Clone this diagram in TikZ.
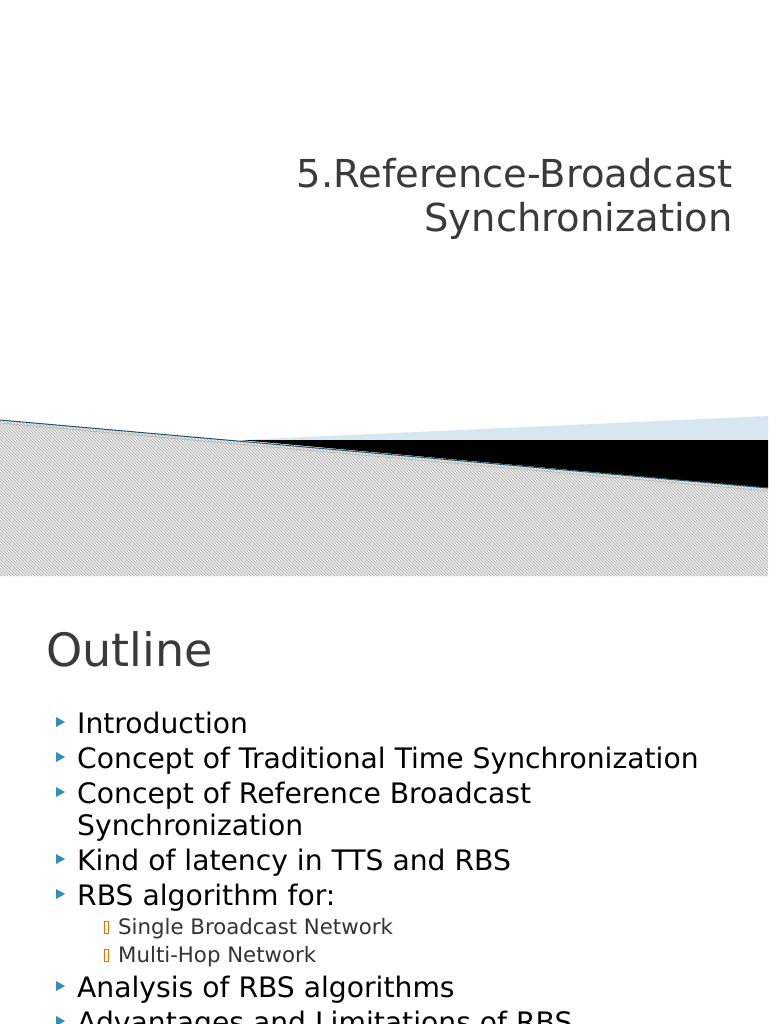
\documentclass[tikz,border=0pt]{standalone}
\usepackage{fontspec}
\setmainfont{DejaVu Sans}
\usetikzlibrary{patterns}
\definecolor{tit}{HTML}{3A3A3A}
\definecolor{teal}{HTML}{2E8FB8}
\definecolor{lblue}{HTML}{D6E7EF}
\tikzset{
 bul/.style={anchor=base west,font=\fontsize{28.2}{32}\selectfont,inner sep=0},
 sub/.style={anchor=base west,font=\fontsize{21.3}{24}\selectfont,color=black!80,inner sep=0},
 tri/.style={fill=teal,draw=none},
 sq/.style={draw=orange!90!black,line width=0.8pt}
}
\begin{document}
\begin{tikzpicture}[x=1pt,y=-1pt]
\useasboundingbox (0,0) rectangle (768,1024);
% band
\fill[lblue] (240,440) -- (768,416) -- (768,440) -- cycle;
\fill[black] (240,440) -- (768,440) -- (768,488) -- cycle;
\fill[gray!12] (0,420) -- (768,488) -- (768,576) -- (0,576) -- cycle;
\fill[pattern=north west lines,pattern color=gray!70] (0,420) -- (768,488) -- (768,576) -- (0,576) -- cycle;
\draw[teal!60!black,line width=1pt] (0,420) -- (768,488);
\draw[gray!60,line width=0.6pt] (0,423) -- (768,491);
% title
\node[anchor=base east,inner sep=0,color=tit,font=\fontsize{38.5}{44}\selectfont] (t1) at (733,188) {5.Reference-Broadcast};
\node[anchor=base east,inner sep=0,color=tit,font=\fontsize{38.5}{44}\selectfont] (t2) at (733,232) {Synchronization};
% second slide
\node[anchor=base west,inner sep=0,color=tit,font=\fontsize{46}{52}\selectfont] (ol) at (46,666) {Outline};
\foreach \y/\t [count=\i] in {733/Introduction,768/Concept of Traditional Time Synchronization,803/Concept of Reference Broadcast,870/Kind of latency in TTS and RBS,905/RBS algorithm for:,997/Analysis of RBS algorithms,1032/Advantages and Limitations of RBS}{
 \fill[tri] (56,\y-16) -- (65,\y-11) -- (56,\y-6) -- cycle;
 \node[bul] (b\i) at (77,\y) {\t};
}
\node[bul] (b3b) at (77,835) {Synchronization};
\draw[sq] (104,921) rectangle (108,933);
\draw[sq] (104,949) rectangle (108,961);
\node[sub] (s1) at (118,934) {Single Broadcast Network};
\node[sub] (s2) at (118,962) {Multi-Hop Network};
\end{tikzpicture}
\end{document}
